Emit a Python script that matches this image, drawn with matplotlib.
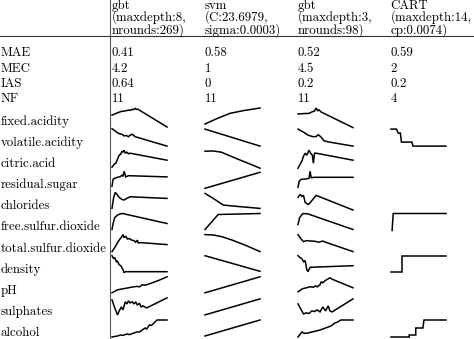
import matplotlib
matplotlib.use("Agg")
import matplotlib.pyplot as plt
from matplotlib.lines import Line2D

plt.rcParams["font.family"] = "cmr10"
plt.rcParams["axes.unicode_minus"] = False
plt.rcParams["mathtext.fontset"] = "cm"

# Models and their summary metrics
headers = [
    ["gbt", "(maxdepth:8,", "nrounds:269)"],
    ["svm", "(C:23.6979,", "sigma:0.0003)"],
    ["gbt", "(maxdepth:3,", "nrounds:98)"],
    ["CART", "(maxdepth:14,", "cp:0.0074)"],
]
metric_names = ["MAE", "MEC", "IAS", "NF"]
mae = [0.41, 0.58, 0.52, 0.59]
mec = [4.2, 1, 4.5, 2]
ias = [0.64, 0, 0.2, 0.2]
nf = [11, 11, 11, 4]

features = ["fixed.acidity", "volatile.acidity", "citric.acid", "residual.sugar",
            "chlorides", "free.sulfur.dioxide", "total.sulfur.dioxide", "density",
            "pH", "sulphates", "alcohol"]

# Effect curves per model (x and y scaled to 0..1 within each cell)
gbt8_curves = {
    "fixed.acidity": ([0, .05, .1, .16, .22, .27, .3, .33, .36, .39, .42, .44, .47, 1],
                      [.65, .7, .76, .82, .85, .87, .9, .88, .93, .92, .98, .93, .94, .05]),
    "volatile.acidity": ([0, .06, .12, .18, .22, .26, .3, .33, .37, .42, 1],
                         [1.02, .9, .78, .74, .66, .68, .62, .7, .74, .62, .15]),
    "citric.acid": ([0, .04, .07, .1, .13, .16, .18, .2, .22, .24, .27, .3, .33, 1],
                    [.15, .3, .35, .55, .75, .8, .95, .9, 1, .85, .9, .82, .85, .5]),
    "residual.sugar": ([0, .02, .05, .1, .15, .18, .2, .22, .25, .3, 1],
                       [.25, .6, .65, .7, .73, .8, .75, 1, .72, .78, .72]),
    "chlorides": ([0, .03, .06, .09, .13, .18, .22, .28, .33, 1],
                  [.2, .75, 1, .9, .75, .65, .62, .72, .78, .7]),
    "free.sulfur.dioxide": ([0, .02, .05, .1, .15, .2, .24, 1],
                            [.2, .5, .8, .92, .98, 1, .97, .5]),
    "total.sulfur.dioxide": ([0, .05, .1, .15, .18, .2, .22, .25, .28, .32, .36, .4, .43, .46, .48, .52, 1],
                             [.15, .35, .6, .8, .9, 1, .85, .92, .78, .8, .72, .7, .62, .72, .58, .6, .5]),
    "density": ([0, .03, .05, .08, .1, .13, .16, .18, .2, .22, .24, 1],
                [1, .85, .9, .7, .72, .55, .5, .4, .3, .15, .2, .2]),
    "pH": ([0, .1, .2, .3, .35, .4, .45, .5, .55, .6, .65, .75, .85, 1],
           [.2, .35, .4, .45, .48, .5, .52, .5, .6, .58, .62, .72, .82, 1]),
    "sulphates": ([0, .05, .1, .13, .17, .2, .24, .27, .3, .33, .37, .4, .43, .46, .5, .53, .56, .63, 1],
                  [.9, .5, .15, .35, .55, .4, .8, .7, .85, .75, .8, .7, .8, .65, .72, .55, .6, .5, 1]),
    "alcohol": ([0, .1, .15, .2, .27, .32, .4, .45, .5, .55, .6, .63, .68, .72, .78, .82, 1],
                [.1, .15, .2, .18, .25, .22, .3, .35, .35, .45, .55, .5, .7, .68, .85, .95, .95]),
}

svm_curves = {
    "fixed.acidity": ([0, .2, .45, .7, 1], [.2, .45, .73, .87, 1]),
    "volatile.acidity": ([0, 1], [1, .15]),
    "citric.acid": ([0, .15, .3, .4, .6, .8, 1], [.95, .96, .9, .78, .55, .33, .1]),
    "residual.sugar": ([0, 1], [.15, .95]),
    "chlorides": ([0, .15, .33, .5, 1], [.95, .7, .37, .32, .2]),
    "free.sulfur.dioxide": ([0, .24, 1], [.2, .95, 1]),
    "total.sulfur.dioxide": ([0, .15, .3, .5, .75, 1], [1, .98, .9, .72, .45, .15]),
    "density": ([0, 1], [1, .22]),
    "pH": ([0, 1], [.2, 1]),
    "sulphates": ([0, 1], [.15, .95]),
    "alcohol": ([0, 1], [.15, .95]),
}

gbt3_curves = {
    "fixed.acidity": ([0, .1, .2, .25, .3, .33, .36, .38, .42, 1],
                      [.7, .72, .73, .8, .85, 1, .85, .92, .8, .02]),
    "volatile.acidity": ([0, .1, .18, .27, .33, .37, .42, .47, .55, 1],
                         [1, .85, .7, .62, .63, .72, .6, .42, .36, .15]),
    "citric.acid": ([0, .04, .07, .1, .13, .16, .2, .23, .26, .28, .3, .33, 1],
                    [.1, .3, .45, .7, .85, .75, 1, .85, .75, .35, .85, .85, .5]),
    "residual.sugar": ([0, .02, .06, .15, .2, .22, .24, .3, 1],
                       [.2, .5, .6, .62, .65, 1, .68, .7, .7]),
    "chlorides": ([0, .04, .07, .1, .13, .18, .2, .33, 1],
                  [.75, .9, .8, .85, .5, .4, .42, .85, .12]),
    "free.sulfur.dioxide": ([0, .03, .09, .18, 1], [.45, .8, 1, .98, .2]),
    "total.sulfur.dioxide": ([0, .05, .1, .15, .22, .3, .38, .45, .5, 1],
                             [1, .8, .65, .7, .68, .67, .62, .68, .62, .15]),
    "density": ([0, .04, .07, .1, .13, .16, .18, .22, 1],
                [1, .9, .85, .7, .75, .3, .2, .42, .5]),
    "pH": ([0, .08, .15, .22, .28, .32, .35, .4, .42, .45, .5, .55, .58, .62, 1],
           [.25, .4, .45, .5, .48, .55, .5, .6, .75, .7, .82, .9, .95, .88, .45]),
    "sulphates": ([0, .05, .1, .15, .2, .25, .3, .35, .4, .45, .5, .55, .58, .62, 1],
                  [.7, .45, .2, .25, .22, .35, .32, .4, .3, .55, .35, .6, .35, .3, .95]),
    "alcohol": ([0, .07, .12, .18, .25, .3, .4, .45, .5, .55, .6, .67, .72, .78, 1],
                [.1, .35, .28, .3, .35, .38, .45, .5, .55, .6, .65, .8, .85, .95, .95]),
}

cart_curves = {
    "volatile.acidity": ([0, .1, .13, .17, .19, .38, .4, 1],
                         [1, 1, .8, .8, .35, .35, .15, .15]),
    "free.sulfur.dioxide": ([.02, .04, 1], [.15, 1, 1]),
    "density": ([0, .2, .2, 1], [.2, .2, 1, 1]),
    "alcohol": ([0, .33, .33, .45, .45, .58, .6, 1],
                [.1, .1, .2, .2, .55, .55, .95, .95]),
}

model_curves = [gbt8_curves, svm_curves, gbt3_curves, cart_curves]
metric_values = [mae, mec, ias, nf]

# Layout in pixels
W, H = 474, 339
col_x = [112, 205, 298, 391]
header_base = [9, 21.5, 33.5]
metric_base = [56, 71.5, 87, 102.5]
feat_base = [125 + 21.1 * i for i in range(len(features))]
spark_w, spark_h = 55, 20
fs = 9.3


def fx(x):
    return x / W


def fy(y):
    return 1 - y / H


fig = plt.figure(figsize=(W / 100, H / 100), dpi=100)

# Rules
fig.add_artist(Line2D([0, 1], [fy(35.5), fy(35.5)], transform=fig.transFigure,
                      color="#333333", lw=0.8))
fig.add_artist(Line2D([fx(110), fx(110)], [0, 1], transform=fig.transFigure,
                      color="#555555", lw=0.8))

# Header
for j, lines in enumerate(headers):
    for k, s in enumerate(lines):
        fig.text(fx(col_x[j] - 0.5), fy(header_base[k]), s, fontsize=fs,
                 ha="left", va="baseline")

# Metric rows
for i, name in enumerate(metric_names):
    fig.text(fx(0.5), fy(metric_base[i]), name, fontsize=fs, ha="left", va="baseline")
    for j in range(4):
        fig.text(fx(col_x[j] - 0.5), fy(metric_base[i]), str(metric_values[i][j]),
                 fontsize=fs, ha="left", va="baseline")

# Feature rows with sparklines
for i, feat in enumerate(features):
    base = feat_base[i]
    fig.text(fx(0.5), fy(base), feat, fontsize=fs, ha="left", va="baseline")
    for j, curves in enumerate(model_curves):
        if feat not in curves:
            continue
        xs, ys = curves[feat]
        ax = fig.add_axes([fx(col_x[j]), fy(base + 3), spark_w / W, spark_h / H])
        ax.plot(xs, ys, color="black", lw=1.1, solid_joinstyle="miter", clip_on=False)
        ax.set_xlim(0, 1)
        ax.set_ylim(0, 1)
        ax.axis("off")

fig.savefig("out.png", dpi=100)
